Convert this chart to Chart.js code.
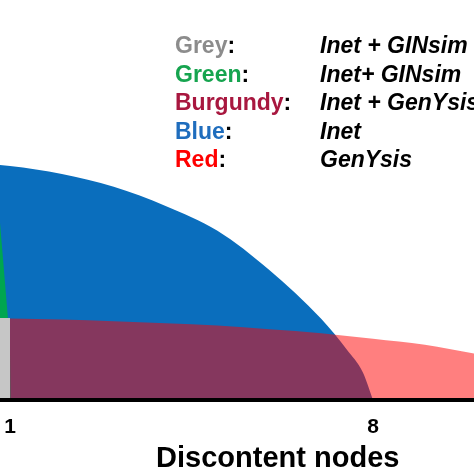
<!DOCTYPE html>
<html>
<head>
<meta charset="utf-8">
<script src="https://cdn.jsdelivr.net/npm/chart.js@4"></script>
<style>
  html, body { margin: 0; padding: 0; background: #fff; }
  #wrap { width: 474px; height: 474px; }
</style>
</head>
<body>
<div id="wrap"><canvas id="myChart" width="474" height="474"></canvas></div>
<script>
// x positions (discontent nodes) and series values
var xTicks = [1, 8];

var greyX = [0.5, 1];
var greyY = [20.5, 20.5];

var greenX = [0.6, 0.807, 0.96, 1.0, 1.01];
var greenY = [67, 44.3, 20.5, 12, 0];

var redX = [1, 2, 3, 4, 5, 6, 7, 8, 9, 10];
var redY = [20.4, 20.1, 19.7, 19.2, 18.6, 17.7, 16.7, 15.3, 13.8, 11.5];

var blueX = [0.5, 1, 2, 3, 4, 5, 6, 7, 7.5, 7.8, 8];
var blueY = [59, 58.5, 56.5, 53.3, 48.5, 42.3, 32.5, 20.3, 12.5, 7, 0];

// legend text
var legendNames = ['Grey', 'Green', 'Burgundy', 'Blue', 'Red'];
var legendColors = ['#8c8c8c', '#16a44f', '#a8173f', '#1f6dbd', '#ff0000'];
var legendMethods = ['Inet + GINsim', 'Inet+ GINsim', 'Inet + GenYsis', 'Inet', 'GenYsis'];

var axisTitle = 'Discontent nodes';

function toPoints(xs, ys) {
  return xs.map(function (x, i) { return { x: x, y: ys[i] }; });
}

var FONT = '"Liberation Sans", Arial, Helvetica, sans-serif';

var textPlugin = {
  id: 'textPlugin',
  afterDraw: function (chart) {
    var c = chart.ctx;
    var area = chart.chartArea;
    c.save();
    c.textBaseline = 'alphabetic';
    c.textAlign = 'left';
    // legend block
    for (var i = 0; i < legendNames.length; i++) {
      var y = 53 + i * 28.5;
      c.font = 'bold 23px ' + FONT;
      c.fillStyle = legendColors[i];
      c.fillText(legendNames[i], 175, y);
      var w = c.measureText(legendNames[i]).width;
      c.fillStyle = '#000';
      c.fillText(':', 175 + w, y);
      c.font = 'italic bold 23px ' + FONT;
      c.fillText(legendMethods[i], 320, y);
    }
    // axis title
    c.font = 'bold 29px ' + FONT;
    c.textAlign = 'center';
    c.fillStyle = '#000';
    c.fillText(axisTitle, area.left + area.width * 0.586, 467);
    c.restore();
  }
};

document.addEventListener('DOMContentLoaded', function () {
  var ctx = document.getElementById('myChart').getContext('2d');

  var myChart = new Chart(ctx, {
    type: 'line',
    data: {
      datasets: [{
        label: 'Grey',
        data: toPoints(greyX, greyY),
        backgroundColor: '#c6c6c6',
        borderWidth: 0,
        pointRadius: 0,
        tension: 0,
        fill: 'origin'
      }, {
        label: 'Green',
        data: toPoints(greenX, greenY),
        backgroundColor: '#00a650',
        borderWidth: 0,
        pointRadius: 0,
        tension: 0,
        fill: 'origin'
      }, {
        label: 'Red',
        data: toPoints(redX, redY),
        backgroundColor: 'rgba(255, 0, 0, 0.5)',
        borderWidth: 0,
        pointRadius: 0,
        cubicInterpolationMode: 'monotone',
        fill: 'origin'
      }, {
        label: 'Blue',
        data: toPoints(blueX, blueY),
        backgroundColor: '#0a6ebd',
        borderWidth: 0,
        pointRadius: 0,
        cubicInterpolationMode: 'monotone',
        fill: 'origin'
      }]
    },
    options: {
      responsive: false,
      animation: false,
      layout: { padding: 0 },
      plugins: {
        legend: { display: false },
        tooltip: { enabled: false }
      },
      scales: {
        x: {
          type: 'linear',
          min: 0.807,
          max: 9.947,
          afterBuildTicks: function (scale) {
            scale.ticks = xTicks.map(function (v) { return { value: v }; });
          },
          afterFit: function (scale) {
            scale.height = 74;
            scale.paddingLeft = 0;
            scale.paddingRight = 0;
          },
          grid: { display: false, drawTicks: false },
          // z: 1 puts the axis line on top of the filled areas
          border: { display: true, color: '#000', width: 4, z: 1 },
          ticks: {
            autoSkip: false,
            maxRotation: 0,
            padding: 15,
            color: '#000',
            font: { family: FONT, size: 21, weight: 'bold' }
          }
        },
        y: {
          display: false,
          min: 0,
          max: 100
        }
      }
    },
    plugins: [textPlugin]
  });
});
</script>
</body>
</html>
